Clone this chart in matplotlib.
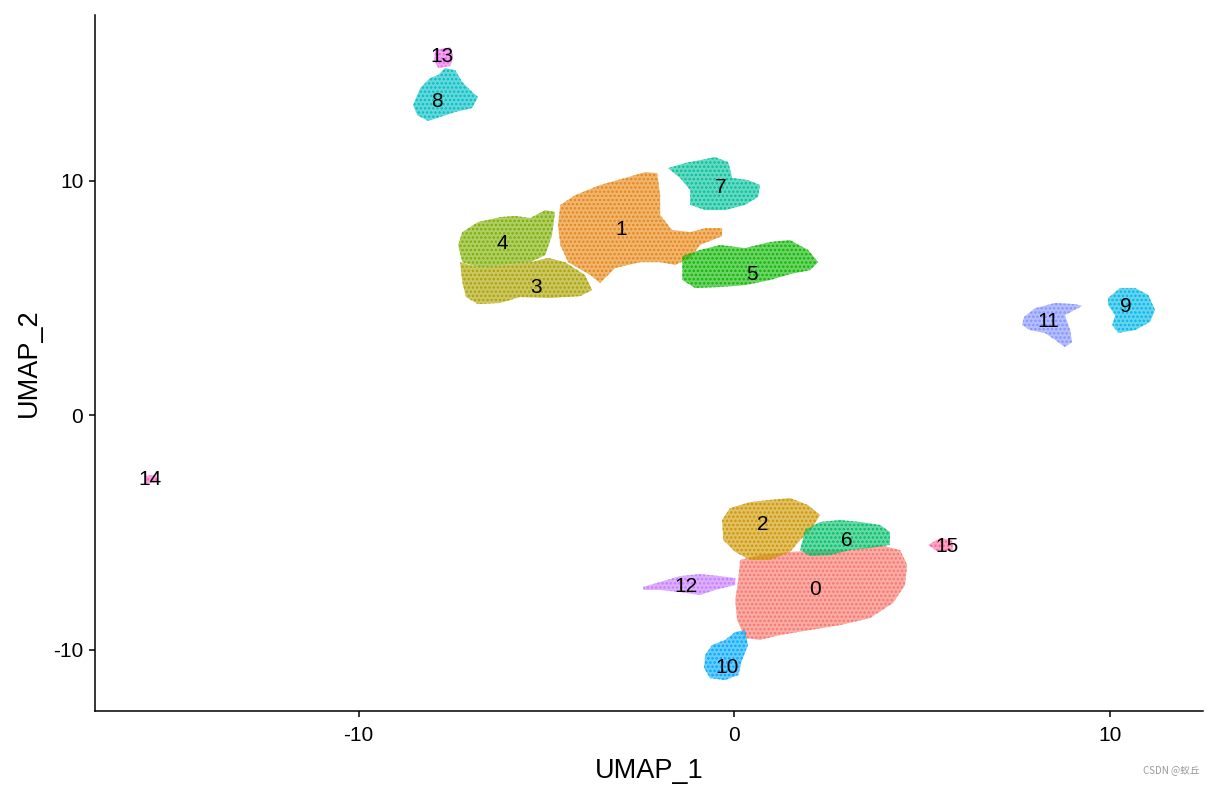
import numpy as np
import matplotlib.pyplot as plt
from matplotlib.patches import Polygon

plt.rcParams['font.family'] = ['Liberation Sans', 'DejaVu Sans']
plt.rcParams['axes.unicode_minus'] = False
plt.rcParams['hatch.linewidth'] = 1.2

# cluster colours (ggplot hue palette, 16 clusters)
colors = ["#F8766D", "#E68613", "#CD9600", "#ABA300", "#7CAE00", "#0CB702",
          "#00BE67", "#00C19A", "#00BFC4", "#00B8E7", "#00A9FF", "#8494FF",
          "#C77CFF", "#ED68ED", "#FF61CC", "#FF68A1"]

# cluster outlines in UMAP coordinates
c0 = [(0.16, -6.18), (0.69, -5.97), (1.49, -5.84), (2.29, -5.76), (3.09, -5.76),
      (3.89, -5.54), (4.42, -5.76), (4.61, -6.40), (4.55, -7.25), (4.23, -8.02),
      (3.62, -8.66), (2.82, -8.96), (2.02, -9.17), (1.23, -9.38), (0.69, -9.59),
      (0.29, -9.51), (0.08, -8.74), (0.03, -7.89), (0.11, -7.04)]
c1 = [(-4.63, 8.96), (-4.23, 9.38), (-3.57, 9.81), (-2.90, 10.11), (-2.37, 10.36),
      (-2.05, 10.32), (-1.97, 9.38), (-1.97, 8.53), (-1.65, 7.89), (-1.17, 7.80),
      (-0.77, 7.97), (-0.32, 7.97), (-0.32, 7.63), (-0.91, 7.25), (-1.17, 6.70),
      (-1.57, 6.40), (-1.97, 6.52), (-2.50, 6.52), (-3.17, 6.27), (-3.57, 5.63),
      (-3.83, 5.97), (-4.42, 6.52), (-4.63, 7.25), (-4.69, 8.10)]
c2 = [(-0.32, -4.48), (-0.11, -3.97), (0.43, -3.71), (0.96, -3.62), (1.49, -3.54),
      (1.97, -3.84), (2.29, -4.26), (2.08, -4.82), (1.76, -5.33), (1.49, -5.84),
      (0.96, -6.18), (0.43, -6.18), (0.03, -5.84), (-0.29, -5.33)]
c3 = [(-7.30, 6.52), (-6.76, 6.27), (-6.10, 6.40), (-5.43, 6.52), (-4.95, 6.70),
      (-4.50, 6.52), (-3.97, 5.97), (-3.78, 5.33), (-4.10, 5.07), (-4.90, 4.99),
      (-5.70, 5.03), (-6.23, 4.78), (-6.82, 4.73), (-7.14, 5.03), (-7.24, 5.67)]
c4 = [(-7.35, 7.25), (-7.24, 7.80), (-6.82, 8.23), (-6.23, 8.44), (-5.83, 8.49),
      (-5.43, 8.40), (-5.03, 8.74), (-4.77, 8.66), (-4.85, 7.68), (-5.03, 6.82),
      (-5.43, 6.52), (-6.10, 6.40), (-6.76, 6.27), (-7.24, 6.52)]
c5 = [(-1.38, 6.78), (-0.91, 7.04), (-0.37, 7.25), (0.29, 7.12), (0.96, 7.38),
      (1.49, 7.46), (1.97, 7.04), (2.24, 6.52), (2.02, 6.18), (1.49, 6.01),
      (0.96, 5.76), (0.29, 5.54), (-0.37, 5.46), (-1.04, 5.42), (-1.38, 5.76)]
c6 = [(1.89, -4.90), (2.29, -4.56), (2.82, -4.48), (3.36, -4.56), (3.89, -4.69),
      (4.15, -4.99), (4.15, -5.54), (3.62, -5.67), (3.09, -5.76), (2.56, -5.97),
      (2.02, -6.01), (1.76, -5.76)]
c7 = [(-1.76, 10.53), (-1.30, 10.75), (-0.91, 10.87), (-0.51, 11.00), (-0.16, 10.79),
      (-0.05, 10.11), (0.37, 10.02), (0.69, 9.81), (0.64, 9.30), (0.29, 8.96),
      (-0.24, 8.74), (-0.77, 8.74), (-1.17, 8.96), (-1.17, 9.59), (-1.44, 10.11)]
c8 = [(-7.88, 14.50), (-7.70, 14.80), (-7.43, 14.71), (-7.24, 14.20), (-7.03, 13.86),
      (-6.82, 13.56), (-6.98, 13.09), (-7.43, 12.92), (-7.83, 12.71), (-8.15, 12.54),
      (-8.44, 12.79), (-8.55, 13.22), (-8.36, 13.94), (-8.10, 14.37)]
c9 = [(9.96, 4.99), (10.28, 5.42), (10.68, 5.42), (11.03, 5.12), (11.21, 4.48),
      (11.08, 3.97), (10.68, 3.62), (10.23, 3.50), (10.07, 3.84), (10.15, 4.26),
      (9.96, 4.69)]
c10 = [(-0.77, -10.23), (-0.59, -9.81), (-0.24, -9.59), (0.03, -9.25), (0.29, -9.17),
       (0.37, -9.81), (0.21, -10.45), (0.11, -11.09), (-0.24, -11.30), (-0.64, -11.22),
       (-0.80, -10.79)]
c11 = [(7.72, 4.18), (8.02, 4.56), (8.55, 4.78), (9.08, 4.73), (9.27, 4.65),
       (8.81, 4.26), (8.95, 3.62), (9.00, 3.11), (8.81, 2.90), (8.55, 3.20),
       (8.28, 3.50), (7.88, 3.62), (7.67, 3.84)]
c12 = [(-2.42, -7.33), (-1.97, -7.12), (-1.44, -6.87), (-0.91, -6.78), (-0.37, -6.87),
       (0.03, -6.95), (0.03, -7.25), (-0.51, -7.46), (-0.91, -7.68), (-1.44, -7.55),
       (-1.97, -7.46), (-2.42, -7.46)]
c13 = [(-7.96, 15.57), (-7.56, 15.69), (-7.48, 15.27), (-7.56, 14.88), (-7.88, 14.80),
       (-7.99, 15.14)]
c14 = [(-15.70, -2.60), (-15.40, -2.55), (-15.35, -2.85), (-15.65, -2.90)]
c15 = [(5.17, -5.54), (5.49, -5.25), (5.81, -5.33), (5.83, -5.76), (5.43, -5.84)]

outlines = [c0, c1, c2, c3, c4, c5, c6, c7, c8, c9, c10, c11, c12, c13, c14, c15]

# cluster label positions
label_x = [2.16, -3.01, 0.75, -5.27, -6.18, 0.48, 3.01, -0.37, -7.91, 10.44,
           -0.19, 8.36, -1.28, -7.78, -15.55, 5.67]
label_y = [-7.42, 7.93, -4.65, 5.42, 7.33, 6.01, -5.33, 9.72, 13.35, 4.61,
           -10.75, 3.97, -7.33, 15.27, -2.77, -5.59]

fig = plt.figure(figsize=(12.14, 7.89), dpi=100)
ax = fig.add_axes([0.0783, 0.0989, 0.9127, 0.8821])

order = [0, 2, 6, 1, 3, 4, 5, 7, 8, 9, 10, 11, 12, 13, 14, 15]
for i in order:
    pts = np.array(outlines[i])
    ax.add_patch(Polygon(pts, closed=True, facecolor=colors[i], alpha=0.6,
                         edgecolor='none', lw=0))
    ax.add_patch(Polygon(pts, closed=True, facecolor='none', edgecolor=colors[i],
                         hatch='....', lw=0))

for i in range(len(label_x)):
    ax.text(label_x[i], label_y[i], str(i), ha='center', va='center',
            fontsize=15, color='black')

ax.set_xlim(-17.02, 12.49)
ax.set_ylim(-12.62, 17.06)
ax.set_xticks([-10, 0, 10])
ax.set_yticks([-10, 0, 10])
ax.tick_params(labelsize=15, length=4.5, width=1.1, direction='out',
               colors='black')
ax.tick_params(axis='x', pad=6)
ax.tick_params(axis='y', pad=4)
for s in ['top', 'right']:
    ax.spines[s].set_visible(False)
for s in ['left', 'bottom']:
    ax.spines[s].set_linewidth(1.1)
ax.set_xlabel('UMAP_1', fontsize=19.5, labelpad=10)
ax.set_ylabel('UMAP_2', fontsize=19.5, labelpad=8)

fig.text(0.988, 0.018, 'CSDN @蚁丘', ha='right', va='bottom', fontsize=7,
         color='#999999', family=['Noto Sans CJK SC', 'DejaVu Sans'])

fig.savefig('out.png', dpi=100)
